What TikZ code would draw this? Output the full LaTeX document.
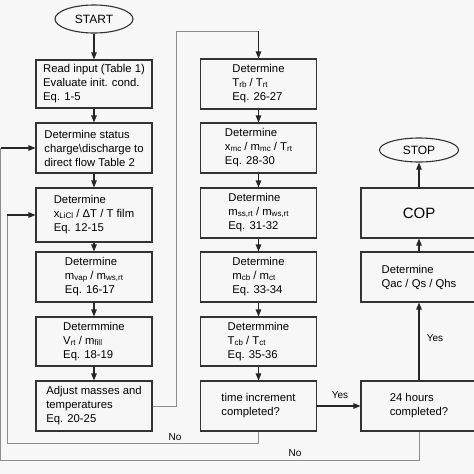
\documentclass[tikz,border=0pt]{standalone}
\usepackage{fontspec}
\setmainfont{Liberation Sans}
\usetikzlibrary{arrows.meta}
\usetikzlibrary{shapes.geometric}
% small index letters next to a symbol
\def\sbs#1{\raisebox{-0.8pt}{\fontsize{8}{8}\selectfont #1}}

\begin{document}
\begin{tikzpicture}[x=1pt, y=-1pt,
  proc/.style={draw=black!80, line width=1.1pt, minimum width=116pt,
    minimum height=50pt, inner sep=0pt, align=left,
    font=\fontsize{11.3}{14}\selectfont},
  term/.style={draw=black!80, line width=1.1pt, ellipse, inner sep=0pt,
    font=\fontsize{12}{14}\selectfont},
  flow/.style={draw=black!85, line width=1.1pt,
    -{Triangle[length=7pt, width=5.5pt]}},
  back/.style={draw=black!45, line width=0.9pt},
  lbl/.style={font=\fontsize{10}{12}\selectfont}]

\clip (0,0) rectangle (474,474);
\fill[black!3] (0,0) rectangle (474,474);

% left column
\node[term, minimum width=78pt, minimum height=28pt] (start) at (94,19) {START};
\node[proc, minimum height=48pt] (read) at (94,84)
  {Read input (Table 1)\\Evaluate init. cond.\\Eq. 1-5};
\node[proc] (status) at (94,148)
  {Determine status\\charge\textbackslash discharge to\\direct flow Table 2};
\node[proc, minimum height=54pt] (film) at (94,215)
  {Determine\\x\sbs{LiCl} / ΔT / T film\\Eq. 12-15};
\node[proc] (vap) at (94,277)
  {Determine\\m\sbs{vap} / m\sbs{ws,rt}\\Eq. 16-17};
\node[proc, minimum height=49pt] (fill) at (94,341.5)
  {Determmine\\V\sbs{rt} / m\sbs{fill}\\Eq. 18-19};
\node[proc] (adjust) at (94,406)
  {Adjust masses and\\temperatures\\Eq. 20-25};

% middle column
\node[proc] (trb) at (258.5,84)
  {Determine\\T\sbs{rb} / T\sbs{rt}\\Eq. 26-27};
\node[proc] (xmc) at (258.5,148)
  {Determine\\x\sbs{mc} / m\sbs{mc} / T\sbs{rt}\\Eq. 28-30};
\node[proc] (mss) at (258.5,213)
  {Determine\\m\sbs{ss,rt} / m\sbs{ws,rt}\\Eq. 31-32};
\node[proc] (mcb) at (258.5,277)
  {Determine\\m\sbs{cb} / m\sbs{ct}\\Eq. 33-34};
\node[proc, minimum height=49pt] (tcb) at (258.5,341.5)
  {Determmine\\T\sbs{cb} / T\sbs{ct}\\Eq. 35-36};
\node[proc] (tinc) at (258.5,406) {time increment\\completed?};

% right column
\node[proc] (hours) at (419,406) {24 hours\\completed?};
\node[proc] (qac) at (419,277) {Determine\\Qac / Qs / Qhs};
\node[proc, font=\fontsize{15}{17}\selectfont] (cop) at (419,213) {COP};
\node[term, minimum width=79pt, minimum height=24pt] (stop) at (419,150) {STOP};

% straight arrows
\foreach \a/\b in {start/read, read/status, status/film, film/vap, vap/fill,
  fill/adjust, trb/xmc, xmc/mss, mss/mcb, mcb/tcb, tcb/tinc,
  tinc/hours, hours/qac, qac/cop, cop/stop}
  \draw[flow] (\a) -- (\b);

% jump to the middle column
\coordinate (top) at (258.5,31);
\draw[back] (adjust.east) -| (176,31) -- (top);
\draw[flow] (top) -- (trb.north);

% loops back
\coordinate (noA) at (7,443);
\coordinate (inA) at (7,215);
\draw[back] (tinc.south) |- (noA) -- (inA);
\draw[flow] (inA) -- (film.west);
\coordinate (noB) at (0.8,460);
\coordinate (inB) at (0.8,148);
\draw[back] (hours.south) |- (noB) -- (inB);
\draw[flow] (inB) -- (status.west);

% labels
\node[lbl] (no1) at (175,437) {No};
\node[lbl] (no2) at (295,453) {No};
\node[lbl] (yes1) at (340,395) {Yes};
\node[lbl] (yes2) at (435,338) {Yes};
\end{tikzpicture}
\end{document}
